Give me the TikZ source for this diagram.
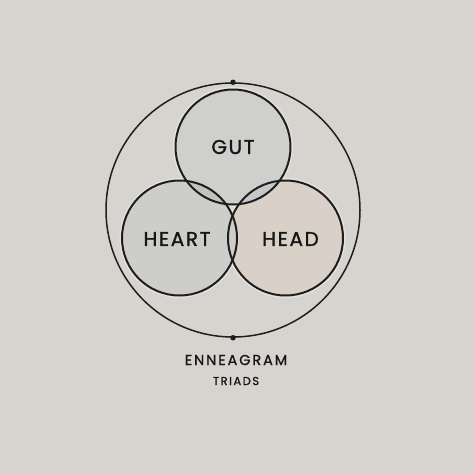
\documentclass[tikz,border=0pt]{standalone}
\usepackage{fontspec}
\newfontfamily\pop{Poppins}[LetterSpace=8,FakeBold=1.2]
\newfontfamily\popw{Poppins}[LetterSpace=13,FakeBold=1.0]
\begin{document}
\begin{tikzpicture}[x=1pt,y=-1pt,
  ring/.style={circle,draw=linec,line width=2pt,minimum size=115pt,inner sep=0pt},
  label/.style={text=textc,font=\pop\fontsize{20}{20}\selectfont},
  dotn/.style={circle,fill=linec,inner sep=0pt,minimum size=5.5pt}]
\definecolor{bg}{HTML}{D7D4CF}
\definecolor{linec}{HTML}{1E1E1E}
\definecolor{textc}{HTML}{161616}
\definecolor{gutc}{HTML}{CFD0CD}
\definecolor{heartc}{HTML}{CDCDC9}
\definecolor{headc}{HTML}{D9D1C7}
\definecolor{lensc}{HTML}{C6C9C9}
\useasboundingbox (0,0) rectangle (474,474);
\fill[bg] (0,0) rectangle (474,474);
% white halo
\draw[white,line width=5pt,opacity=0.35] (233,147) circle (57.5) (179.5,238) circle (57.5) (285.5,238) circle (57.5);
% fills
\fill[gutc] (233,147) circle (57.5);
\fill[heartc] (179.5,238) circle (57.5);
\fill[headc] (285.5,238) circle (57.5);
\begin{scope}
  \clip (233,147) circle (57.5);
  \fill[lensc] (285.5,238) circle (57.5);
  \fill[heartc!95!black] (179.5,238) circle (57.5);
\end{scope}
\begin{scope}
  \clip (179.5,238) circle (57.5);
  \fill[heartc] (285.5,238) circle (57.5);
\end{scope}
% outer ring
\node[circle,draw=linec,line width=1.5pt,minimum size=254pt,inner sep=0pt] (outer) at (233,210) {};
\node[dotn] (topdot) at (outer.north) {};
\node[dotn] (botdot) at (outer.south) {};
% triad circles
\node[ring] (gut) at (233,147) {};
\node[ring] (heart) at (179.5,238) {};
\node[ring] (head) at (285.5,238) {};
\node[label] (gutt) at (gut.center) {GUT};
\node[label] (heartt) at (177,239) {HEART};
\node[label] (headt) at (290.5,239) {HEAD};
\node[text=textc,font=\popw\fontsize{14.5}{14.5}\selectfont] (t1) at (236,360) {ENNEAGRAM};
\node[text=textc,font=\popw\fontsize{11.5}{11.5}\selectfont] (t2) at (236,381) {TRIADS};
\end{tikzpicture}
\end{document}
